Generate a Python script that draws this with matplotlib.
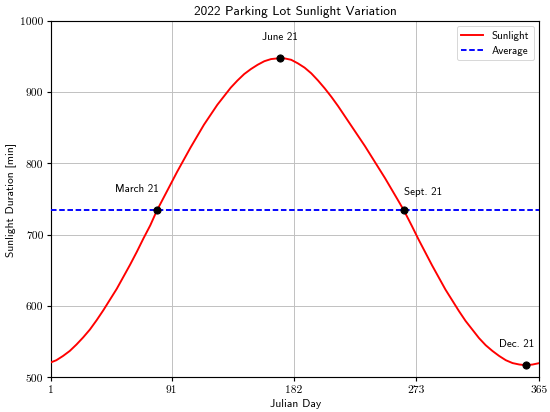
import matplotlib
matplotlib.use("Agg")
import matplotlib.pyplot as plt

# Sunlight duration (Julian day -> minutes)
days = [1, 5, 10, 15, 20, 25, 30, 35, 40, 45, 50, 55, 60, 65, 70, 75, 80, 85, 90,
        95, 100, 105, 110, 115, 120, 125, 130, 135, 140, 145, 150, 155, 160, 165,
        170, 172, 175, 180, 185, 190, 195, 200, 205, 210, 215, 220, 225, 230, 235,
        240, 245, 250, 255, 260, 264, 270, 275, 280, 285, 290, 295, 300, 305, 310,
        315, 320, 325, 330, 335, 340, 345, 350, 355, 360, 365]
sunlight = [521, 524, 530, 537, 546, 556, 567, 580, 594, 609, 624, 641, 658, 676,
            695, 713, 734, 752, 770, 788, 805, 822, 838, 854, 868, 882, 894, 906,
            916, 925, 932, 938, 943, 946, 947, 947, 947, 945, 940, 934, 926, 916,
            905, 893, 880, 866, 852, 838, 824, 809, 794, 779, 763, 747, 734, 712,
            693, 675, 657, 640, 623, 608, 593, 579, 567, 555, 545, 537, 530, 524,
            520, 518, 517, 518, 520]
average = 734

event_labels = ["March 21", "June 21", "Sept. 21", "Dec. 21"]
event_days = [80, 172, 264, 355]
event_values = [734, 947, 734, 517]
label_dx = [-15, 0, 14, -7]
label_dy = [30, 30, 27, 30]

xticks = [1, 91, 182, 273, 365]
yticks = [500, 600, 700, 800, 900, 1000]

plt.rcParams['font.family'] = ['cmss10', 'DejaVu Sans']
plt.rcParams['axes.unicode_minus'] = False

fig = plt.figure(figsize=(8, 6), dpi=68.75)
ax = fig.add_axes([0.0927, 0.084, 0.888, 0.865])

ax.plot(days, sunlight, color='red', lw=2, label='Sunlight', zorder=3)
ax.axhline(average, color='blue', ls=(0, (2.9, 1.4)), lw=2, label='Average', zorder=3)
ax.plot(event_days, event_values, 'o', color='black', ms=7.5, zorder=4)
for lab, d, v, dx, dy in zip(event_labels, event_days, event_values, label_dx, label_dy):
    ax.text(d + dx, v + dy, lab, ha='center', va='center', fontsize=11.5)

ax.set_xlim(1, 365)
ax.set_ylim(500, 1000)
ax.set_xticks(xticks, labels=[str(t) for t in xticks])
ax.set_yticks(yticks, labels=[str(t) for t in yticks])
for lab in ax.get_xticklabels() + ax.get_yticklabels():
    lab.set_fontfamily('cmr10')
    lab.set_fontsize(12)
ax.tick_params(width=1.2, length=4.5)
for s in ax.spines.values():
    s.set_linewidth(1.2)
ax.grid(True, color='#c0c0c0', lw=1)
ax.set_axisbelow(True)

ax.set_title('2022 Parking Lot Sunlight Variation', fontsize=14)
ax.set_xlabel('Julian Day', fontsize=12)
ax.set_ylabel('Sunlight Duration [min]', fontsize=12)
ax.legend(loc='upper right', fontsize=11.5)

fig.savefig('out.png', dpi=68.75)
